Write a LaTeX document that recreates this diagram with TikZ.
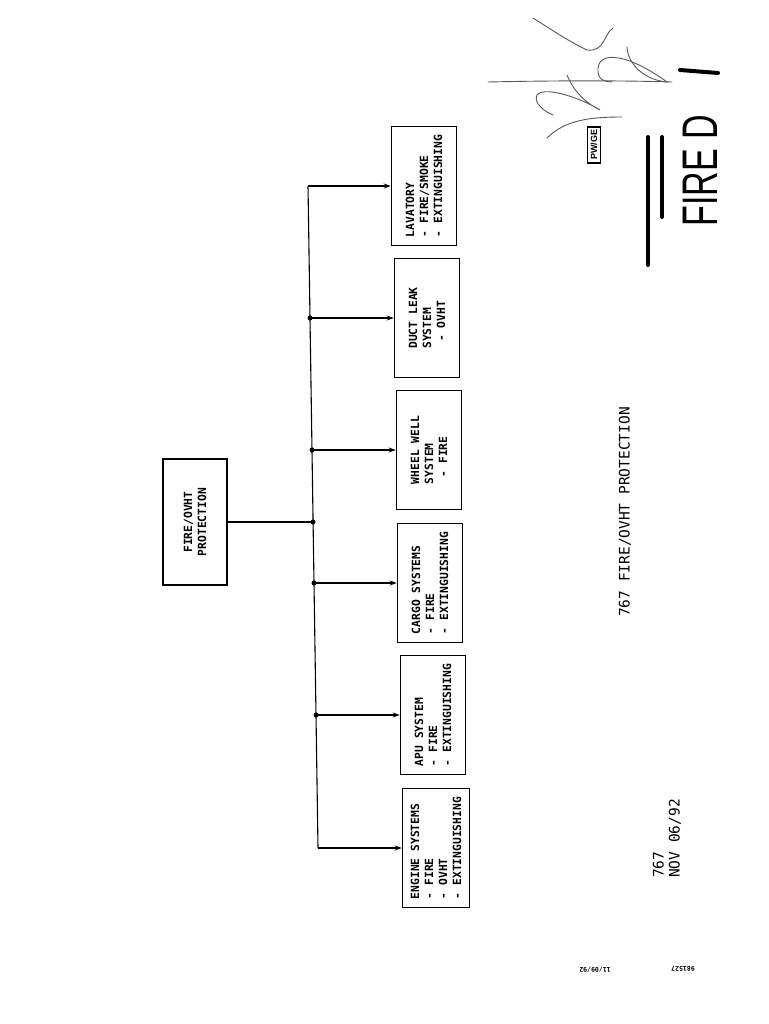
\documentclass[tikz,border=0pt]{standalone}
\usepackage{fontspec}
\setmonofont{DejaVu Sans Mono}
\newfontfamily\handfont{Liberation Sans}
\newfontfamily\labfont{Liberation Sans}
\usetikzlibrary{arrows.meta}
\begin{document}
\begin{tikzpicture}[x=1pt,y=-1pt,
  box/.style={draw, line width=1.6pt, rotate=90, minimum width=119pt, minimum height=65pt,
    inner sep=2pt, align=left, font=\ttfamily\bfseries\fontsize{11.3}{14}\selectfont},
  link/.style={line width=1.1pt},
  arr/.style={link, -{Stealth[length=7pt,width=5pt]}},
  dot/.style={circle, fill, inner sep=0pt, minimum size=5pt},
  pencil/.style={line width=0.9pt, black!65, line cap=round},
  marker/.style={line width=4pt, line cap=round}]
\path[use as bounding box, fill=white] (0,0) rectangle (768,1024);

% boxes
\node[box, minimum width=126pt, minimum height=64pt, align=center] (main) at (195,522) {FIRE/OVHT\\PROTECTION};
\node[box] (lav) at (424,186) {LAVATORY\\- FIRE/SMOKE\\- EXTINGUISHING};
\node[box] (duct) at (427,318) {DUCT LEAK\\SYSTEM\\\phantom{x}- OVHT};
\node[box] (wheel) at (429,450) {WHEEL WELL\\SYSTEM\\\phantom{x}- FIRE};
\node[box] (cargo) at (430,583) {CARGO SYSTEMS\\- FIRE\\- EXTINGUISHING};
\node[box] (apu) at (433,715) {APU SYSTEM\\- FIRE\\- EXTINGUISHING};
\node[box, minimum height=67pt] (eng) at (436,848) {ENGINE SYSTEMS\\- FIRE\\- OVHT\\- EXTINGUISHING};

% bus
\coordinate (btop) at (308,186);
\coordinate (bbot) at (318,848);
\coordinate (j2) at (310,318);
\coordinate (j3) at (312,450);
\coordinate (jm) at (313,522);
\coordinate (j4) at (314,583);
\coordinate (j5) at (316,715);
\draw[link] (btop) -- (bbot);
\draw[link] (main) -- (jm);
\draw[arr] (btop) -- (lav);
\draw[arr] (j2) -- (duct);
\draw[arr] (j3) -- (wheel);
\draw[arr] (j4) -- (cargo);
\draw[arr] (j5) -- (apu);
\draw[arr] (bbot) -- (eng);
\foreach \j in {j2,j3,jm,j4,j5} \node[dot] at (\j) {};

% captions
\node[rotate=90, font=\ttfamily\fontsize{14.5}{18}\selectfont] (title) at (625,512) {767 FIRE/OVHT PROTECTION};
\node[rotate=90, anchor=west, align=left, inner sep=0pt, font=\ttfamily\fontsize{14.5}{16}\selectfont] (date) at (667,878) {767\\NOV 06/92};
\node[rotate=180, font=\ttfamily\bfseries\fontsize{6.5}{8}\selectfont] (stamp) at (595,970) {11/09/92};
\node[rotate=180, font=\ttfamily\bfseries\fontsize{6.5}{8}\selectfont] (num) at (683,969) {981527};

% PW/GE tag
\node[draw, line width=1.2pt, rotate=90, inner sep=3pt, font=\labfont\bfseries\fontsize{9}{10}\selectfont] (pwge) at (594,145) {PW/GE};

% handwriting
\draw[pencil] (488,82) .. controls (580,80) and (640,81) .. (672,82);
\draw[pencil] (533,18) .. controls (555,32) and (570,42) .. (587,50) .. controls (605,52) and (603,35) .. (613,28);
\draw[pencil] (667,82) .. controls (630,55) and (600,50) .. (598,68) .. controls (597,80) and (605,82) .. (612,82);
\draw[pencil] (627,47) .. controls (628,65) and (645,80) .. (667,82);
\draw[pencil] (567,75) .. controls (575,95) and (590,105) .. (600,110) .. controls (585,100) and (545,85) .. (537,95) .. controls (533,103) and (545,112) .. (553,115);
\draw[pencil] (547,138) .. controls (565,120) and (590,117) .. (622,117);

\draw[marker] (648,137) -- (648,265);
\draw[marker] (662,137) -- (662,217);
\draw[marker] (680,70) -- (718,73);
\node[rotate=90, xscale=0.68, font=\handfont\fontsize{50}{50}\selectfont] (hw) at (700,171) {FIRE D};
\end{tikzpicture}
\end{document}
